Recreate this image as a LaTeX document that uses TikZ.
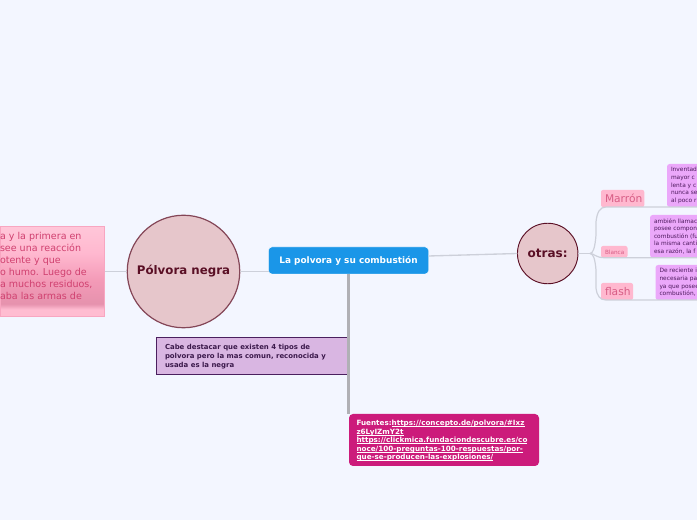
\documentclass[tikz,border=0pt]{standalone}
\usepackage{fontspec}
\setmainfont{DejaVu Sans}
\definecolor{bgc}{HTML}{F3F6FF}
\definecolor{linec}{HTML}{CDD0DA}
\definecolor{linedk}{HTML}{B0B0B5}
\definecolor{circf}{HTML}{E6C6CB}
\definecolor{circd}{HTML}{5A0F25}
\definecolor{pinkb}{HTML}{FFB8CF}
\definecolor{pinkt}{HTML}{D0406F}
\definecolor{magb}{HTML}{EBA8FA}
\definecolor{magt}{HTML}{4E1A5E}
\definecolor{lilac}{HTML}{D9B6E2}
\definecolor{lilacd}{HTML}{4A1F5E}
\definecolor{blueb}{HTML}{1A96E8}
\definecolor{fuent}{HTML}{CC1B7B}
\pgfdeclareverticalshading{pinkshade}{100bp}{
 color(0bp)=(pinkb!95!white);
 color(25bp)=(pinkb!95!white);
 color(29bp)=(pinkb!95!white);
 color(32bp)=(pinkb!70!pinkt!90!gray);
 color(45bp)=(pinkb!75!pinkt);
 color(60bp)=(pinkb);
 color(75bp)=(pinkb!80!white);
 color(100bp)=(pinkb!80!white)}
\newcommand{\fs}[2]{\fontsize{#1}{#2}\selectfont}
\newsavebox{\ulkbox}
\newcommand{\ulk}[1]{\sbox{\ulkbox}{#1}\rlap{\rule[-0.75pt]{\wd\ulkbox}{0.3pt}}\usebox{\ulkbox}}
\tikzset{
 x=0.75pt,y=-0.75pt,
 every node/.style={inner sep=0pt,outer sep=0pt},
 conn/.style={draw=linec,line width=0.9pt},
 conndk/.style={draw=linedk,line width=1.8pt},
 bigcirc/.style={circle,fill=circf,text=circd},
 catbox/.style={anchor=north west,fill=pinkb,rounded corners=1.5pt},
 magbox/.style={anchor=north west,fill=magb,rounded corners=2pt},
 magtext/.style={anchor=north west,text=magt,align=left,font=\fs{4.4pt}{5.7pt}},
 cattext/.style={anchor=west,text=pinkt!85!white},
}
\begin{document}
\begin{tikzpicture}
\useasboundingbox (0,0) rectangle (697,520);
\clip (0,0) rectangle (697,520);
\fill[bgc] (0,0) rectangle (697,520);

% nodes
\node[bigcirc,draw=circd!70!circf,line width=0.9pt,minimum size=112.5*0.75pt,font=\fs{8.85pt}{11pt}\bfseries] (negra) at (183.5,271.5) {\raisebox{-0.7pt}{Pólvora negra}};
\node[bigcirc,draw=circd,line width=0.7pt,minimum size=60.5*0.75pt,font=\fs{9pt}{11pt}\bfseries] (otras) at (547.7,253.5) {otras:};
\node[anchor=north west,fill=blueb,draw=white,line width=0.3pt,rounded corners=2.5pt,minimum width=160*0.75pt,minimum height=27*0.75pt,text=white,font=\fs{6.7pt}{9pt}\bfseries] (main) at (268.5,247) {\raisebox{-0.5pt}{La polvora y su combustión}};

\node[anchor=north west,minimum width=104.5*0.75pt,minimum height=90*0.75pt,draw=pinkb!85!pinkt,line width=0.5pt,shading=pinkshade] (desc) at (0,226.5) {};
\node[anchor=north west,text=pinkt,align=left,font=\fs{7.15pt}{9pt}] (desctext) at (0,232) {a y la primera en\\see una reacción\\otente y que\\o humo. Luego de\\a muchos residuos,\\aba las armas de};

\node[anchor=north west,fill=lilac,draw=lilacd,line width=0.8pt,minimum width=191.5*0.75pt,minimum height=37*0.75pt] (cabe) at (156.5,337.5) {};
\node[anchor=north west,text=lilacd!80!black,align=left,font=\fs{5.2pt}{6.5pt}\bfseries] (cabetext) at (165,344.5) {Cabe destacar que existen 4 tipos de\\polvora pero la mas comun, reconocida y\\usada es la negra};

\node[anchor=north west,fill=fuent,rounded corners=3pt,minimum width=190*0.75pt,minimum height=52*0.75pt] (fuentes) at (349,414) {};
\node[anchor=north west,text=white,align=left,font=\fs{5.4pt}{6.4pt}\bfseries] (fuentestext) at (356.5,420) {Fuentes:\ulk{https://concepto.de/polvora/\#Ixz}\\\ulk{z6LyIZmY2t}\\\ulk{https://clickmica.fundaciondescubre.es/co}\\\ulk{noce/100-preguntas-100-respuestas/por-}\\\ulk{que-se-producen-las-explosiones/}};

\node[catbox,minimum width=43.3*0.75pt,minimum height=17*0.75pt] (marron) at (601,190) {};
\node[cattext,font=\fs{8pt}{10pt}] (marront) at (605,198.5) {Marrón};
\node[catbox,minimum width=26.5*0.75pt,minimum height=11.5*0.75pt] (blanca) at (601,246) {};
\node[cattext,font=\fs{4.3pt}{5pt}] (blancat) at (605,252) {Blanca};
\node[catbox,minimum width=32*0.75pt,minimum height=17*0.75pt] (flash) at (601,283) {};
\node[cattext,font=\fs{8pt}{10pt}] (flasht) at (605,291.5) {flash};

\node[magbox,minimum width=40*0.75pt,minimum height=43*0.75pt] (m1) at (667,164) {};
\node[magtext] (m1t) at (671,167.5) {Inventad\\mayor c\\lenta y c\\nunca se\\al poco r};
\node[magbox,minimum width=60*0.75pt,minimum height=42.5*0.75pt] (m2) at (650,215) {};
\node[magtext] (m2t) at (654,218.5) {ambién llamac\\posee compon\\combustión (fu\\la misma cantid\\esa razón, la f};
\node[magbox,minimum width=55*0.75pt,minimum height=35*0.75pt] (m3) at (655.5,265) {};
\node[magtext] (m3t) at (659.5,268.5) {De reciente i\\necesaria pa\\ya que posee\\combustión,};

\coordinate (e1) at (697,207);
\coordinate (e2) at (697,257.7);
\coordinate (e3) at (697,300);
\coordinate (j) at (590,253.5);

% connectors
\draw[conn] (desc.east) -- (negra.west);
\draw[conn] (negra.east) -- (main.west |- negra.east);
\draw[conn,line width=1pt] (main.east |- 428,256) -- (otras.west);
\draw[conndk] (main.south) -- (fuentes.north west -| main.south);
\draw[conn] (otras.east) -- (j);
\draw[conn] (j) .. controls (593,253.5) and (595,248) .. (596,235) -- (596,222) .. controls (597,212) and (600,207) .. (606,207) -- (e1);
\draw[conn] (j) .. controls (594,253.5) and (596,257.7) .. (604,257.7) -- (e2);
\draw[conn] (j) .. controls (593,253.5) and (595,258) .. (596,270) -- (596,288) .. controls (597,296) and (600,300) .. (606,300) -- (e3);
\end{tikzpicture}
\end{document}
